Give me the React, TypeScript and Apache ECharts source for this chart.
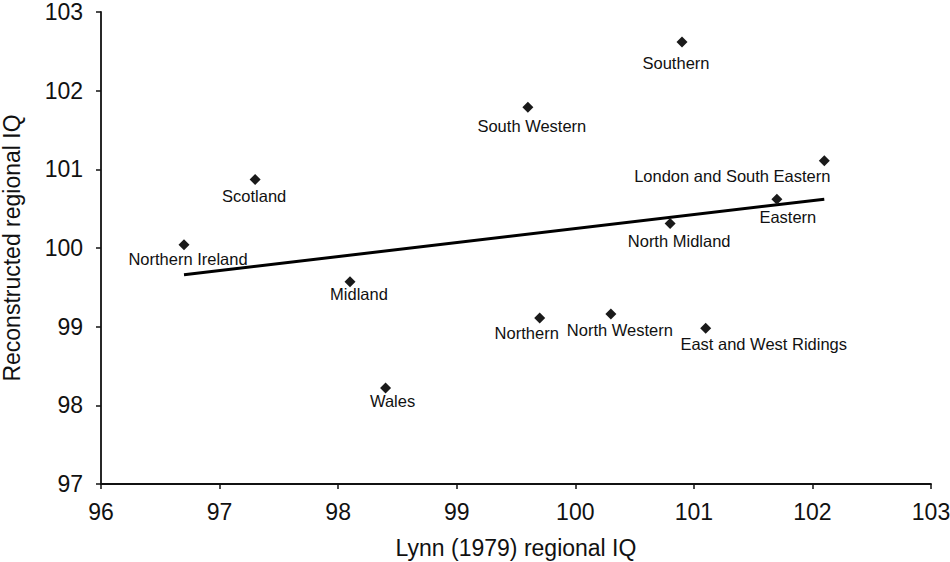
import React, { useEffect, useRef } from "react";
import * as echarts from "echarts";

const regions = [
  "Northern Ireland",
  "Scotland",
  "Midland",
  "Wales",
  "South Western",
  "Northern",
  "North Western",
  "Southern",
  "North Midland",
  "East and West Ridings",
  "Eastern",
  "London and South Eastern",
];
const lynnIQ = [96.7, 97.3, 98.1, 98.4, 99.6, 99.7, 100.3, 100.9, 100.8, 101.1, 101.7, 102.1];
const reconstructedIQ = [100.04, 100.87, 99.57, 98.22, 101.79, 99.11, 99.16, 102.62, 100.31, 98.98, 100.62, 101.11];

const trendX = [96.7, 102.1];
const trendY = [99.66, 100.62];

// layout: label offsets (px) from each marker, same order as regions
const labelOffsets: [number, number][] = [
  [4, 14],
  [-1, 16],
  [9, 12],
  [7, 13],
  [4, 19],
  [-13, 15],
  [9, 16],
  [-6, 21],
  [9, 17],
  [58, 16],
  [11, 18],
  [-92, 15],
];

const FONT = "'Liberation Sans', Arial, sans-serif";
const INK = "#111";

export default function App() {
  const ref = useRef<HTMLDivElement>(null);
  useEffect(() => {
    if (!ref.current) return;
    const chart = echarts.init(ref.current, undefined, { renderer: "svg" });
    const points = regions.map((name, i) => ({
      name,
      value: [lynnIQ[i], reconstructedIQ[i]],
      label: { offset: labelOffsets[i] },
    }));
    chart.setOption({
      animation: false,
      backgroundColor: "#fff",
      grid: { left: 101, right: 19, top: 12, bottom: 78, containLabel: false, outerBoundsMode: "none" },
      xAxis: {
        type: "value",
        min: 96,
        max: 103,
        interval: 1,
        name: "Lynn (1979) regional IQ",
        nameLocation: "middle",
        nameGap: 52,
        nameTextStyle: { fontFamily: FONT, fontSize: 23, color: INK },
        axisLine: { show: true, onZero: false, lineStyle: { color: INK, width: 1.8 } },
        axisTick: { show: true, inside: false, length: 5, lineStyle: { color: INK, width: 1.5 } },
        axisLabel: { fontFamily: FONT, fontSize: 23, color: INK, margin: 16 },
        splitLine: { show: false },
      },
      yAxis: {
        type: "value",
        min: 97,
        max: 103,
        interval: 1,
        name: "Reconstructed regional IQ",
        nameLocation: "middle",
        nameGap: 78,
        nameTextStyle: { fontFamily: FONT, fontSize: 23, color: INK },
        axisLine: { show: true, onZero: false, lineStyle: { color: INK, width: 1.8 } },
        axisTick: { show: true, inside: false, length: 5, lineStyle: { color: INK, width: 1.5 } },
        axisLabel: { fontFamily: FONT, fontSize: 23, color: INK, margin: 18 },
        splitLine: { show: false },
      },
      series: [
        {
          type: "line",
          data: trendX.map((x, i) => [x, trendY[i]]),
          symbol: "none",
          lineStyle: { color: "#000", width: 3 },
          silent: true,
          z: 1,
        },
        {
          type: "scatter",
          data: points,
          symbol: "diamond",
          symbolSize: 11,
          itemStyle: { color: "#1a1a1a", opacity: 1 },
          label: {
            show: true,
            position: "inside",
            formatter: "{b}",
            fontFamily: FONT,
            fontSize: 16.5,
            color: INK,
          },
          z: 3,
        },
      ],
    });
    return () => chart.dispose();
  }, []);
  return (
    <div
      ref={ref}
      style={{ position: "absolute", left: 0, top: 0, width: 950, height: 562 }}
    />
  );
}
